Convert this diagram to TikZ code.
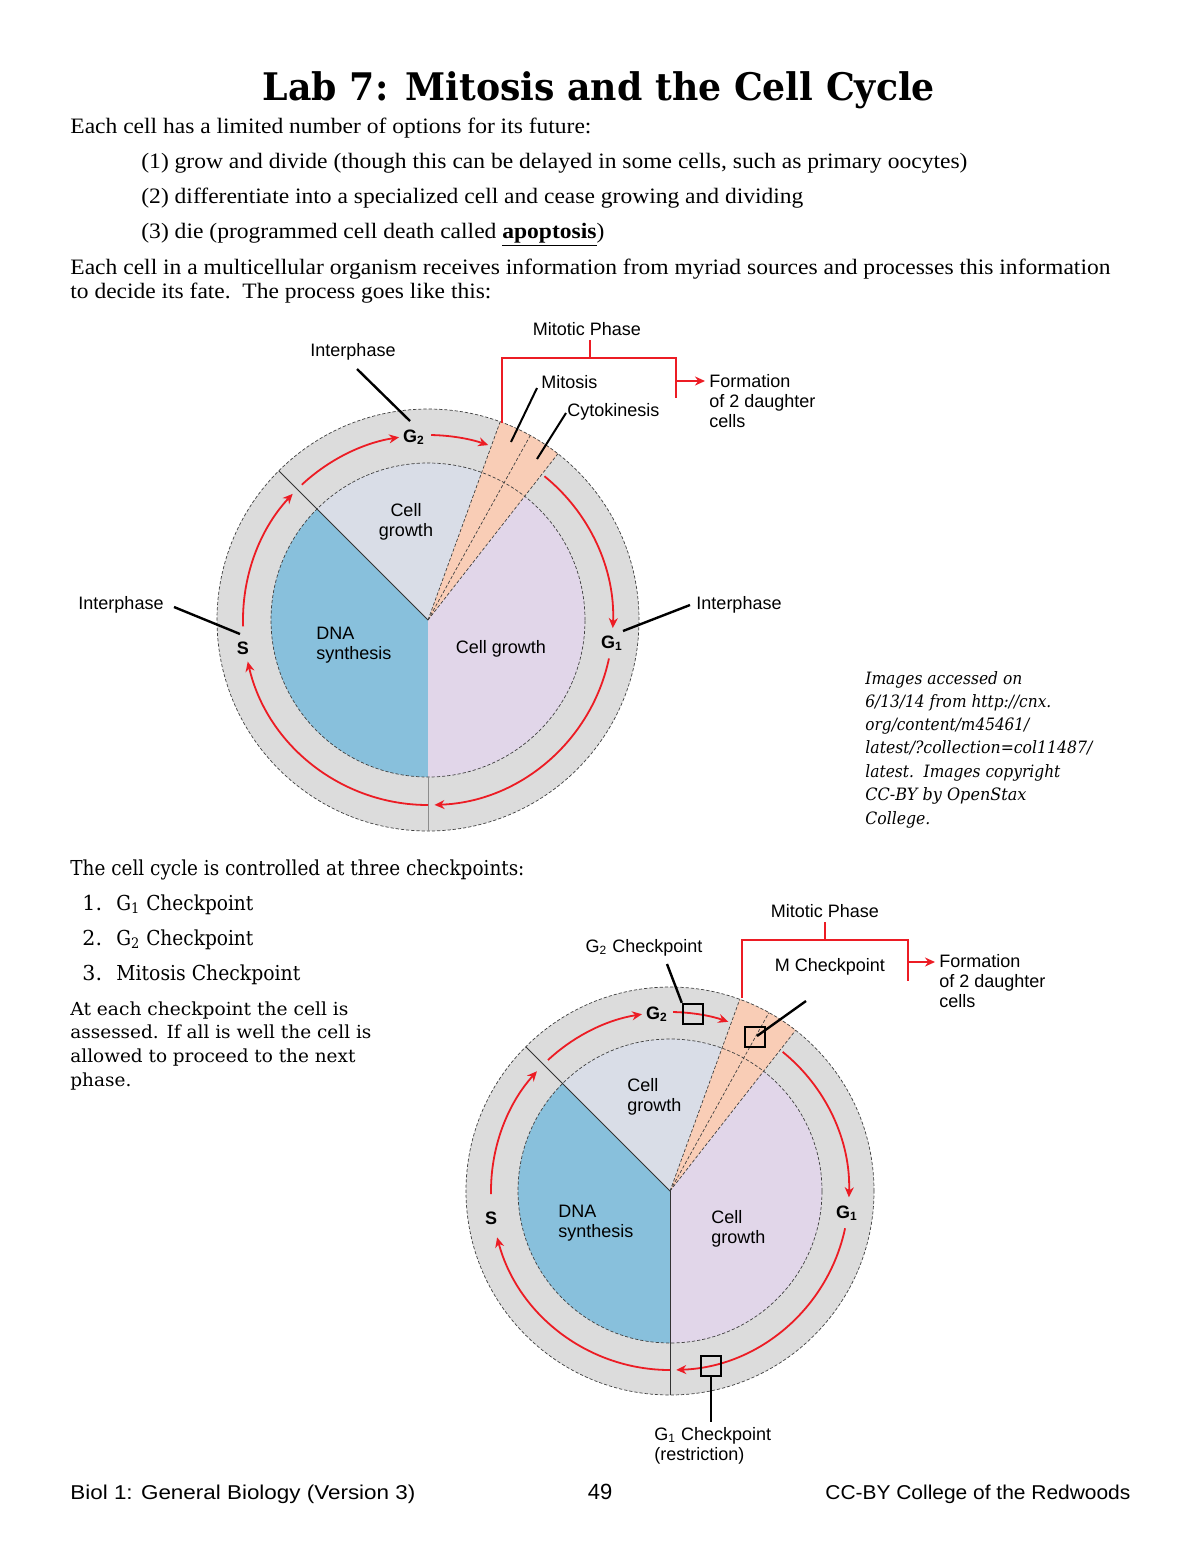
\documentclass[tikz,border=0pt]{standalone}
\usepackage{fontspec}
\setmainfont{Liberation Serif}
\newfontfamily\dvs{DejaVu Serif}
\newfontfamily\las{Liberation Sans}
\usepackage{graphicx}
\usetikzlibrary{arrows.meta}
\definecolor{ringc}{HTML}{DCDCDC}
\definecolor{dnab}{HTML}{88C0DC}
\definecolor{lavc}{HTML}{E1D6E9}
\definecolor{topg}{HTML}{D9DDE7}
\definecolor{salm}{HTML}{F9CDB6}
\definecolor{myred}{HTML}{EC1C24}
\newcommand\wf[2]{\resizebox{#1}{\height}{#2}}
\newcommand\upf{\fontsize{11}{13}\selectfont}
\newcommand\lof{\dvs\fontsize{10.3}{12}\selectfont}
\newcommand\paf{\dvs\fontsize{9}{11}\selectfont}
\newcommand\itf{\dvs\itshape\fontsize{8.5}{10}\selectfont}
\tikzset{
  txt/.style={anchor=base west, inner sep=0pt},
  lab/.style={inner sep=0pt, font=\las\fontsize{9}{9.8}\selectfont},
  phs/.style={inner sep=0pt, font=\las\bfseries\fontsize{9}{10}\selectfont},
  dsh/.style={draw=black!75, line width=0.35pt, dash pattern=on 1.6pt off 1pt},
  redarr/.style={draw=myred, line width=0.9pt, -{Stealth[length=5pt,width=4.5pt]}},
  brk/.style={draw=myred, line width=0.9pt},
  leader/.style={draw=black, line width=1.2pt},
  cbox/.style={draw=black, line width=1.2pt, minimum size=10pt, inner sep=0pt},
}
\begin{document}
\begin{tikzpicture}[x=0.5pt,y=0.5pt]
\useasboundingbox (0,0) rectangle (1200,-1553);
\fill[white] (0,0) rectangle (1200,-1553);

% ---------- text ----------
\node[anchor=base, inner sep=0pt] (title) at (599,-100) {\wf{336pt}{\dvs\bfseries\fontsize{19}{20}\selectfont Lab 7: Mitosis and the Cell Cycle}};
\node[txt] (l1) at (70,-133) {\wf{260.5pt}{\upf Each cell has a limited number of options for its future:}};
\node[txt] (l2) at (141,-168) {\wf{413pt}{\upf (1) grow and divide (though this can be delayed in some cells, such as primary oocytes)}};
\node[txt] (l3) at (141,-203) {\wf{331pt}{\upf (2) differentiate into a specialized cell and cease growing and dividing}};
\node[txt] (l4) at (141,-238) {\wf{231.5pt}{\upf (3) die (programmed cell death called \textbf{\underline{apoptosis}})}};
\node[txt] (l5) at (70,-274) {\wf{520pt}{\upf Each cell in a multicellular organism receives information from myriad sources and processes this information}};
\node[txt] (l6) at (70,-298) {\wf{210.5pt}{\upf to decide its fate.\ \ The process goes like this:}};

\node[txt] (h2) at (70,-875) {\wf{227pt}{\lof The cell cycle is controlled at three checkpoints:}};
\node[txt] (n1) at (82,-910) {\lof 1.};
\node[txt] (i1) at (116,-910) {\wf{68.5pt}{\lof G\textsubscript{1} Checkpoint}};
\node[txt] (n2) at (82,-945) {\lof 2.};
\node[txt] (i2) at (116,-945) {\wf{68.5pt}{\lof G\textsubscript{2} Checkpoint}};
\node[txt] (n3) at (82,-980) {\lof 3.};
\node[txt] (i3) at (116,-980) {\wf{92pt}{\lof Mitosis Checkpoint}};
\node[txt] (p1) at (70,-1015) {\wf{139pt}{\paf At each checkpoint the cell is}};
\node[txt] (p2) at (70,-1038) {\wf{150.5pt}{\paf assessed. If all is well the cell is}};
\node[txt] (p3) at (70,-1062) {\wf{142.5pt}{\paf allowed to proceed to the next}};
\node[txt] (p4) at (70,-1086) {\wf{30.5pt}{\paf phase.}};

\node[txt] (c1) at (865,-684) {\wf{78.5pt}{\itf Images accessed on}};
\node[txt] (c2) at (865,-707) {\wf{93pt}{\itf 6/13/14 from http://cnx.}};
\node[txt] (c3) at (865,-730) {\wf{82pt}{\itf org/content/m45461/}};
\node[txt] (c4) at (865,-753) {\wf{113.5pt}{\itf latest/?collection=col11487/}};
\node[txt] (c5) at (865,-777) {\wf{97.5pt}{\itf latest.\ \ Images copyright}};
\node[txt] (c6) at (865,-800) {\wf{80.5pt}{\itf CC-BY by OpenStax}};
\node[txt] (c7) at (865,-824) {\wf{32.5pt}{\itf College.}};

\node[txt] (f1) at (70,-1499) {\wf{172.5pt}{\las\fontsize{10}{12}\selectfont Biol 1: General Biology (Version 3)}};
\node[anchor=base, inner sep=0pt] (f2) at (600,-1499) {\las\fontsize{11}{12}\selectfont 49};
\node[txt] (f3) at (825,-1499) {\wf{152.5pt}{\las\fontsize{10}{12}\selectfont CC-BY College of the Redwoods}};

% ---------- diagram 1 ----------
\begin{scope}[shift={(428,-620)}]
\fill[ringc] (0,0) circle[radius=211];
\fill[dnab] (0,0) -- (135:157) arc[start angle=135,end angle=270,radius=157] -- cycle;
\fill[lavc] (0,0) -- (-90:157) arc[start angle=-90,end angle=52,radius=157] -- cycle;
\fill[topg] (0,0) -- (70:157) arc[start angle=70,end angle=135,radius=157] -- cycle;
\fill[salm] (0,0) -- (52:211) arc[start angle=52,end angle=70,radius=211] -- cycle;
\draw[dsh] (0,0) circle[radius=211];
\draw[dsh] (0,0) circle[radius=157];
\draw[line width=0.5pt, black!80] (0,0) -- (135:211);
\draw[line width=0.5pt, black!45] (-90:157) -- (-90:211);
\draw[dsh] (0,0) -- (52:211);
\draw[dsh] (0,0) -- (61:211);
\draw[dsh] (0,0) -- (70:211);
\draw[redarr] (51:185) arc[start angle=51,end angle=-2.5,radius=185];
\draw[redarr] (-12:185) arc[start angle=-12,end angle=-88,radius=185];
\draw[redarr] (270:185) arc[start angle=270,end angle=193,radius=185];
\draw[redarr] (182:185) arc[start angle=182,end angle=137,radius=185];
\draw[redarr] (133:185) arc[start angle=133,end angle=99,radius=185];
\draw[redarr] (89:185) arc[start angle=89,end angle=71,radius=185];
\end{scope}
\node[phs] (g2a) at (414,-437) {G\textsubscript{2}};
\node[phs] (sa) at (243,-648) {S};
\node[phs] (g1a) at (612,-643) {G\textsubscript{1}};
\node[lab, align=center] (cgt1) at (406,-522) {Cell\\growth};
\node[lab, align=left, anchor=west] (dna1) at (316,-645) {DNA\\synthesis};
\node[lab] (cgr1) at (501,-649) {Cell growth};
\node[lab] (ipt) at (353,-352) {Interphase};
\node[lab] (ipl) at (121,-605) {Interphase};
\node[lab] (ipr) at (739,-605) {Interphase};
\node[lab] (mp1) at (587,-329) {Mitotic Phase};
\node[lab, anchor=west] (mit) at (541,-382) {Mitosis};
\node[lab, anchor=west] (cyt) at (567,-412) {Cytokinesis};
\node[lab, align=left, anchor=west] (form1) at (709,-401) {Formation\\of 2 daughter\\cells};
\coordinate (ipts) at (357,-369); \coordinate (ipte) at (410,-421);
\coordinate (ipls) at (174,-607); \coordinate (iple) at (240,-634);
\coordinate (iprs) at (690,-605); \coordinate (ipre) at (623,-631);
\coordinate (mits) at (537,-388); \coordinate (mite) at (511,-442);
\coordinate (cyts) at (566,-413); \coordinate (cyte) at (537,-459);
\draw[leader] (ipts) -- (ipte);
\draw[leader] (ipls) -- (iple);
\draw[leader] (iprs) -- (ipre);
\draw[leader, line width=1pt] (mits) -- (mite);
\draw[leader, line width=1pt] (cyts) -- (cyte);
\coordinate (b1s) at (590,-340); \coordinate (b1m) at (590,-358);
\coordinate (b1l) at (502,-423); \coordinate (b1r) at (676,-398);
\coordinate (b1a) at (676,-381); \coordinate (b1t) at (705,-381);
\draw[brk] (b1s) -- (b1m);
\draw[brk] (b1l) |- (b1m) -| (b1r);
\draw[redarr] (b1a) -- (b1t);

% ---------- diagram 2 ----------
\begin{scope}[shift={(670,-1191)}]
\fill[ringc] (0,0) circle[radius=204];
\fill[dnab] (0,0) -- (135:152) arc[start angle=135,end angle=270,radius=152] -- cycle;
\fill[lavc] (0,0) -- (-90:152) arc[start angle=-90,end angle=52,radius=152] -- cycle;
\fill[topg] (0,0) -- (70:152) arc[start angle=70,end angle=135,radius=152] -- cycle;
\fill[salm] (0,0) -- (52:204) arc[start angle=52,end angle=70,radius=204] -- cycle;
\draw[dsh] (0,0) circle[radius=204];
\draw[dsh] (0,0) circle[radius=152];
\draw[line width=0.5pt, black!80] (0,0) -- (135:204);
\draw[line width=0.5pt, black!80] (0,0) -- (-90:204);
\draw[dsh] (0,0) -- (52:204);
\draw[dsh] (0,0) -- (61:204);
\draw[dsh] (0,0) -- (70:204);
\draw[redarr] (51:179) arc[start angle=51,end angle=-2,radius=179];
\draw[redarr] (-12:179) arc[start angle=-12,end angle=-88,radius=179];
\draw[redarr] (270:179) arc[start angle=270,end angle=195,radius=179];
\draw[redarr] (181:179) arc[start angle=181,end angle=138,radius=179];
\draw[redarr] (133:179) arc[start angle=133,end angle=99,radius=179];
\draw[redarr] (89:179) arc[start angle=89,end angle=71,radius=179];
\end{scope}
\node[phs] (g2b) at (657,-1014) {G\textsubscript{2}};
\node[phs] (sb) at (491,-1218) {S};
\node[phs] (g1b) at (847,-1213) {G\textsubscript{1}};
\node[lab, align=left, anchor=west] (cgt2) at (627,-1097) {Cell\\growth};
\node[lab, align=left, anchor=west] (dna2) at (558,-1223) {DNA\\synthesis};
\node[lab, align=left, anchor=west] (cgr2) at (711,-1229) {Cell\\growth};
\node[lab] (mp2) at (825,-911) {Mitotic Phase};
\node[lab] (mck) at (830,-967) {M Checkpoint};
\node[lab] (g2ck) at (644,-948) {G\textsubscript{2} Checkpoint};
\node[lab, align=left, anchor=west] (form2) at (939,-981) {Formation\\of 2 daughter\\cells};
\node[lab, align=left, anchor=west] (g1ck) at (654,-1446) {G\textsubscript{1} Checkpoint\\(restriction)};
\node[cbox] (bx2) at (693,-1014) {};
\node[cbox] (bxm) at (755,-1037) {};
\node[cbox] (bx1) at (711,-1366) {};
\coordinate (g2ls) at (667,-964);
\coordinate (mls) at (806,-1001); \coordinate (mle) at (757,-1036);
\coordinate (g1le) at (711,-1422);
\draw[leader] (g2ls) -- (bx2.north west);
\draw[leader] (mls) -- (mle);
\draw[leader] (bx1.south) -- (g1le);
\coordinate (b2s) at (825,-922); \coordinate (b2m) at (825,-940);
\coordinate (b2l) at (742,-998); \coordinate (b2r) at (908,-981);
\coordinate (b2a) at (908,-962); \coordinate (b2t) at (935,-962);
\draw[brk] (b2s) -- (b2m);
\draw[brk] (b2l) |- (b2m) -| (b2r);
\draw[redarr] (b2a) -- (b2t);
\end{tikzpicture}
\end{document}
